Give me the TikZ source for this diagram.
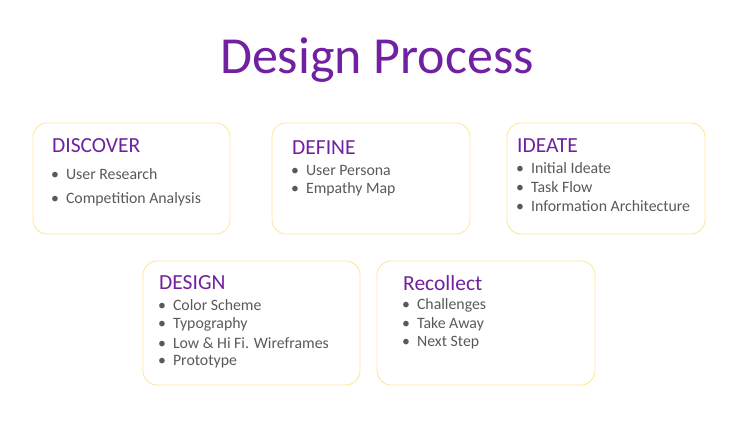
\documentclass[tikz,border=0pt]{standalone}
\usepackage{fontspec}
\setmainfont{Carlito}
\usetikzlibrary{positioning}
\definecolor{procpurple}{RGB}{112, 32, 160}
\definecolor{boxgold}{RGB}{255, 230, 153}
\definecolor{itemgray}{RGB}{89, 89, 89}
\tikzset{
  stagebox/.style={draw=boxgold, line width=0.9pt, rounded corners=14pt},
  stagehead/.style={anchor=west, text=procpurple, font=\fontsize{21.5}{23}\selectfont, inner sep=0pt},
  stageitem/.style={anchor=west, text=itemgray, font=\fontsize{15.8}{18}\selectfont, inner sep=0pt},
}
\begin{document}
\begin{tikzpicture}[x=1pt, y=-1pt]
    \useasboundingbox (0,0) rectangle (752,423);
    % Title
    \node (title) at (377,60) {\textcolor{procpurple}{\fontsize{52}{56}\selectfont Design Process}};

    % Boxes
    \draw[stagebox] (33,123) rectangle (230,234);
    \draw[stagebox] (272,123) rectangle (470,234);
    \draw[stagebox] (507,123) rectangle (705,234);
    \draw[stagebox] (143,261) rectangle (360,385);
    \draw[stagebox] (377,261) rectangle (595,385);

    % DISCOVER
    \node[stagehead] (discover) at (52,146) {DISCOVER};
    \foreach \txt [count=\i] in {User Research, Competition Analysis} {
        \node[stageitem] at (51,{149+25*\i}) {\textbullet\hspace{7pt}\txt};
    }
    % DEFINE
    \node[stagehead] (define) at (292,148) {DEFINE};
    \foreach \txt [count=\i] in {User Persona, Empathy Map} {
        \node[stageitem] at (291,{151+19*\i}) {\textbullet\hspace{7pt}\txt};
    }
    % IDEATE
    \node[stagehead] (ideate) at (517,146) {IDEATE};
    \foreach \txt [count=\i] in {Initial Ideate, Task Flow, Information Architecture} {
        \node[stageitem] at (516,{149+19*\i}) {\textbullet\hspace{7pt}\txt};
    }
    % DESIGN
    \node[stagehead] (design) at (159,283) {DESIGN};
    \foreach \txt [count=\i] in {Color Scheme, Typography, Low \& Hi Fi. Wireframes, Prototype} {
        \node[stageitem] at (158,{286+19*\i}) {\textbullet\hspace{7pt}\txt};
    }
    % Recollect
    \node[stagehead] (recollect) at (403,283) {Recollect};
    \foreach \txt [count=\i] in {Challenges, Take Away, Next Step} {
        \node[stageitem] at (402,{286+19*\i}) {\textbullet\hspace{7pt}\txt};
    }
\end{tikzpicture}
\end{document}
